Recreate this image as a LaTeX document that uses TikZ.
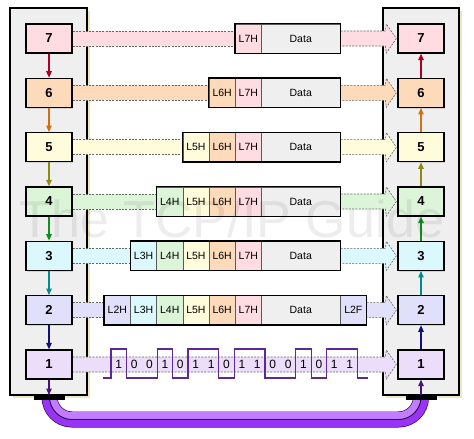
\documentclass[tikz,border=0pt]{standalone}
\usepackage{fontspec}
\setmainfont{Liberation Sans}
\usetikzlibrary{arrows.meta,shadows,calc}
\definecolor{c7}{HTML}{FFDCE1}
\definecolor{c6}{HTML}{FCDABA}
\definecolor{c5}{HTML}{FFFCDC}
\definecolor{c4}{HTML}{DCF5D9}
\definecolor{c3}{HTML}{DCF8FF}
\definecolor{c2}{HTML}{E0E0FA}
\definecolor{c1}{HTML}{ECDDFA}
\definecolor{a7}{HTML}{B00020}
\definecolor{a6}{HTML}{D07010}
\definecolor{a5}{HTML}{8E8A10}
\definecolor{a4}{HTML}{109020}
\definecolor{a3}{HTML}{008C8C}
\definecolor{a2}{HTML}{10107A}
\definecolor{a1}{HTML}{4A1080}
\definecolor{wave}{HTML}{5A2A96}
\definecolor{datagray}{HTML}{EFEFEF}
\definecolor{panelgray}{HTML}{EFEFEF}
\definecolor{panelshadow}{HTML}{E9E7C4}
\definecolor{cableA}{HTML}{C27DFF}
\definecolor{cableB}{HTML}{9933F5}
\definecolor{cableD}{HTML}{2E0A4A}
\pgfdeclarelayer{bg}
\pgfdeclarelayer{tubes}
\pgfdeclarelayer{fg}
\pgfsetlayers{bg,tubes,main,fg}
\begin{document}
\begin{tikzpicture}[x=1pt,y=-1pt,
  layer/.style={draw=black, line width=1.3pt, minimum width=46pt, minimum height=29pt,
    inner sep=0pt, font=\bfseries\fontsize{13}{13}\selectfont,
    drop shadow={shadow xshift=1.4pt, shadow yshift=-1.4pt, opacity=0.25}},
  cell/.style={draw=black!65, line width=0.5pt, minimum width=26.2pt, minimum height=29pt,
    inner sep=0pt, anchor=west, font=\fontsize{10.5}{10.5}\selectfont},
  arr/.style={line width=1.2pt, -{Triangle[length=6.5pt,width=5.5pt]}},
  tubeline/.style={draw=black!60, line width=0.6pt, dash pattern=on 2pt off 1.3pt},
  panel/.style={fill=panelgray, draw=black, line width=1.3pt},
  bit/.style={font=\fontsize{12}{12}\selectfont, inner sep=0pt},
  block/.style={fill=black, minimum width=31pt, minimum height=4.5pt, inner sep=0pt, anchor=north}
]
\useasboundingbox (0,0) rectangle (474,439);

% cable
\begin{pgfonlayer}{bg}
\draw[cableD, line width=16pt, rounded corners=22.5pt] (49.5,396) -- (49.5,419.5) -- (421,419.5) -- (421,396);
\draw[cableA, line width=7.2pt, rounded corners=18.75pt] (53.25,396) -- (53.25,415.75) -- (417.25,415.75) -- (417.25,396);
\draw[cableB, line width=7.2pt, rounded corners=26.25pt] (45.75,396) -- (45.75,423.25) -- (424.75,423.25) -- (424.75,396);
\draw[cableD, line width=0.9pt, rounded corners=22.5pt] (49.5,396) -- (49.5,419.5) -- (421,419.5) -- (421,396);
% panels
\fill[panelshadow] (12.5,10.5) rectangle (89.5,397.5);
\fill[panelshadow] (385.5,10.5) rectangle (461.5,397.5);
\draw[panel] (10,8) rectangle (87,395);
\draw[panel] (383,8) rectangle (459,395);
\end{pgfonlayer}

% layer boxes
\foreach \n in {1,...,7}{
  \pgfmathsetmacro\cy{38.5+(7-\n)*54.333}
  \node[layer, fill=c\n] (L\n) at (49,\cy) {\n};
  \node[layer, fill=c\n] (R\n) at (421,\cy) {\n};
}

% packets
\foreach \n in {2,...,7}{
  \pgfmathsetmacro\cy{38.5+(7-\n)*54.333}
  \foreach \k in {\n,...,7}{
    \pgfmathsetmacro\hx{104+(\k-2)*26.2}
    \node[cell, fill=c\k] (H\n-\k) at (\hx,\cy) {L\k H};
  }
  \node[cell, fill=datagray, minimum width=79pt] (D\n) at (261,\cy) {Data};
}
\pgfmathsetmacro\cyb{38.5+5*54.333}
\node[cell, fill=c2] (F2) at (340,\cyb) {L2F};
\foreach \n in {3,...,7}{
  \draw[line width=1.2pt] (H\n-\n.north west) rectangle (D\n.south east);
}
\draw[line width=1.2pt] (H2-2.north west) rectangle (F2.south east);

% tubes
\begin{pgfonlayer}{tubes}
\foreach \n in {2,...,7}{
  \fill[c\n] ($(L\n.east)+(0,-7.5)$) rectangle ($(H\n-\n.west)+(0,7.5)$);
  \draw[tubeline] ($(L\n.east)+(0,-7.5)$) -- ($(H\n-\n.west)+(0,-7.5)$)
                  ($(L\n.east)+(0,7.5)$) -- ($(H\n-\n.west)+(0,7.5)$);
}
\foreach \n/\e in {7/D7,6/D6,5/D5,4/D4,3/D3,2/F2,1/L1}{
  \fill[c\n] ($(\e.east)+(0,-7.5)$) -- ($(R\n.west)+(-12,-7.5)$) -- ($(R\n.west)+(-11,-14.5)$)
     -- ($(R\n.west)+(-1,0)$) -- ($(R\n.west)+(-11,14.5)$) -- ($(R\n.west)+(-12,7.5)$)
     -- ($(\e.east)+(0,7.5)$) -- cycle;
  \draw[tubeline] ($(\e.east)+(0,-7.5)$) -- ($(R\n.west)+(-12,-7.5)$) -- ($(R\n.west)+(-11,-14.5)$)
     -- ($(R\n.west)+(-1,0)$) -- ($(R\n.west)+(-11,14.5)$) -- ($(R\n.west)+(-12,7.5)$)
     -- ($(\e.east)+(0,7.5)$);
}
\end{pgfonlayer}

% waveform
\def\lo{378}\def\hi{349}
\draw[wave, line width=1.3pt] (103,\lo) -- (111,\lo) -- (111,\hi) -- (126.4,\hi) -- (126.4,\lo)
  -- (157.2,\lo) -- (157.2,\hi) -- (172.6,\hi) -- (172.6,\lo) -- (188,\lo) -- (188,\hi)
  -- (218.8,\hi) -- (218.8,\lo) -- (234.2,\lo) -- (234.2,\hi) -- (265,\hi) -- (265,\lo)
  -- (295.8,\lo) -- (295.8,\hi) -- (311.2,\hi) -- (311.2,\lo) -- (326.6,\lo) -- (326.6,\hi)
  -- (357.4,\hi) -- (357.4,\lo) -- (368,\lo);
\foreach \b [count=\i from 0] in {1,0,0,1,0,1,1,0,1,1,0,0,1,0,1,1}{
  \node[bit] (b\i) at (118.7+15.4*\i,364.5) {\b};
}

% cable blocks
\node[block] (BL) at (49,395) {};
\node[block] (BR) at (421,395) {};

% arrows
\foreach \n/\m in {7/6,6/5,5/4,4/3,3/2,2/1}{
  \draw[arr, a\n] (L\n.south) -- (L\m.north);
  \draw[arr, a\n] (R\m.north) -- (R\n.south);
}
\draw[arr, a1] (L1.south) -- (BL.north);
\draw[arr, a1] (BR.north) -- (R1.south);

% watermark
\begin{pgfonlayer}{fg}
\node[font=\fontsize{52}{52}\selectfont, text=black, opacity=0.07, anchor=base, inner sep=0pt] (wm) at (232,237) {The TCP/IP Guide};
\end{pgfonlayer}
\end{tikzpicture}
\end{document}
